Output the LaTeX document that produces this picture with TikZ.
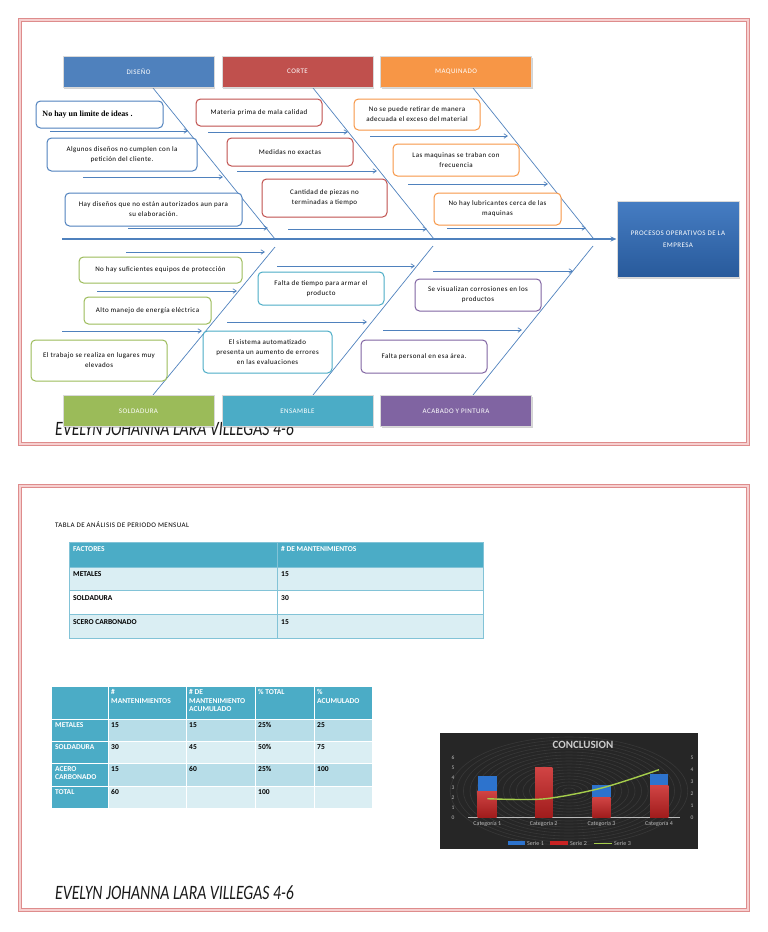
\documentclass[tikz,border=0pt]{standalone}
\usepackage{fontspec}
\setmainfont{Carlito}
\newfontfamily\cf[LetterSpace=6]{Carlito}
\newfontfamily\serifb{Liberation Serif}
\usetikzlibrary{arrows.meta,shadows,calc}
\definecolor{cblue}{RGB}{79,129,189}
\definecolor{cred}{RGB}{192,80,77}
\definecolor{corange}{RGB}{247,150,70}
\definecolor{cgreen}{RGB}{155,187,89}
\definecolor{cteal}{RGB}{75,172,198}
\definecolor{cpurple}{RGB}{128,100,162}
\definecolor{pinkband}{RGB}{246,208,208}
\definecolor{pinkline}{RGB}{222,140,140}
\definecolor{effTop}{RGB}{70,125,195}
\definecolor{effBot}{RGB}{40,90,155}
\definecolor{tlight}{RGB}{218,238,243}
\definecolor{tmid}{RGB}{183,221,232}
\definecolor{tline}{RGB}{130,195,215}
\definecolor{chartbg}{RGB}{38,38,38}
\definecolor{chartring}{RGB}{56,56,56}
\definecolor{barred}{RGB}{200,35,35}
\definecolor{barblue}{RGB}{45,115,205}
\definecolor{linegreen}{RGB}{165,205,75}
\definecolor{axisgray}{RGB}{185,185,185}
\begin{document}
\begin{tikzpicture}[x=1pt,y=-1pt,
  catbox/.style={fill=#1, draw=white!85!black, line width=1pt, minimum width=151pt, minimum height=31pt, inner sep=0pt, text=white, font=\cf\fontsize{7}{8}\selectfont, drop shadow={shadow xshift=1.2pt, shadow yshift=-1.6pt, opacity=0.35}},
  cause/.style={draw=#1, fill=white, line width=1pt, rounded corners=4.5pt, align=center, inner sep=0pt, font=\cf\fontsize{7}{10}\selectfont},
  bone/.style={draw=cblue, line width=0.7pt},
  feed/.style={draw=cblue, line width=0.7pt, -{Straight Barb[length=3.5pt,width=4.5pt]}},
  frame/.style={draw=pinkband, line width=3.6pt},
  frameline/.style={draw=pinkline, line width=0.7pt},
  footer/.style={anchor=base west, inner sep=0pt, font=\itshape\fontsize{15.7}{18}\selectfont, text=black!90},
  tcell/.style={anchor=north west, inner sep=0pt, align=left, font=\bfseries\fontsize{7.5}{8.5}\selectfont},
  axl/.style={inner sep=0pt, text=axisgray, font=\fontsize{5.5}{6}\selectfont},
  catl/.style={inner sep=0pt, text=axisgray, font=\fontsize{6}{7}\selectfont}
]
\useasboundingbox (0,0) rectangle (768,932);
% ---------------- page 1 frame
\draw[frame] (20,20) rectangle (748,444);
\draw[frameline] (18.3,18.3) rectangle (749.7,445.7);
\draw[frameline] (21.7,21.7) rectangle (746.3,442.3);
% footer page 1 (behind the lower boxes)
\begin{scope}[shift={(55,435)}, yscale=1.3, transform shape]
  \node[footer] (foot1) at (0,0) {EVELYN JOHANNA LARA VILLEGAS 4-6};
\end{scope}
% ---------------- bones
\foreach \n/\xa/\ya/\xb/\yb in {bd/153/88/275/239, bc/313/88/434/239, bm/473/88/593/238,
                                bs/153/395/275/247, be/313/395/433/246, ba/473/395/593/246}{
  \coordinate (\n s) at (\xa,\ya);
  \coordinate (\n e) at (\xb,\yb);
  \draw[bone] (\n s) -- (\n e);
}
% ---------------- feeder arrows
\foreach \n/\xa/\xb/\yy in {fd1/50/188/131, fd2/83/223/177, fd3/128/268/228,
                            fc1/208/348/132, fc2/237/377/171, fc3/288/427/229,
                            fm1/370/508/136, fm2/408/548/184, fm3/447/586/228,
                            fs1/126/265/252, fs2/97/237/291, fs3/62/202/331,
                            fe1/277/415/266, fe2/227/367/322,
                            fa1/433/573/271, fa2/383/522/330}{
  \coordinate (\n s) at (\xa,\yy);
  \coordinate (\n e) at (\xb,\yy);
  \draw[feed] (\n s) -- (\n e);
}
% ---------------- category boxes
\node[catbox=cblue] (dis) at (138.5,71.5) {DISEÑO};
\node[catbox=cred] (cor) at (297.5,71.5) {CORTE};
\node[catbox=corange] (maq) at (456,71.5) {MAQUINADO};
\node[catbox=cgreen] (sol) at (138.5,411) {SOLDADURA};
\node[catbox=cteal] (ens) at (297.5,411) {ENSAMBLE};
\node[catbox=cpurple] (aca) at (456,411) {ACABADO Y PINTURA};
% effect
\node[draw=white!85!black, line width=1pt, top color=effTop, bottom color=effBot, minimum width=122pt, minimum height=76pt, inner sep=0pt, text=white, align=center, font=\cf\fontsize{7}{12.5}\selectfont, drop shadow={shadow xshift=1.2pt, shadow yshift=-1.6pt, opacity=0.35}] (eff) at (678,239) {PROCESOS OPERATIVOS DE LA\\EMPRESA};
% spine
\coordinate (spst) at (62,239);
\draw[draw=cblue, line width=1.5pt, -{Stealth[length=6pt,width=5pt]}] (spst) -- (eff.west);
% ---------------- cause boxes
\node[cause=cblue, minimum width=127pt, minimum height=27pt, font=\serifb\bfseries\fontsize{8}{9}\selectfont] (d1) at (99.5,114.5) {No hay un limite de ideas .\hspace{24pt}};
\node[cause=cblue, minimum width=150pt, minimum height=33pt] (d2) at (122,154.5) {Algunos diseños no cumplen con la\\petición del cliente.};
\node[cause=cblue, minimum width=177pt, minimum height=33pt] (d3) at (153.5,209.5) {Hay diseños que no están autorizados aun para\\su elaboración.};
\node[cause=cred, minimum width=126pt, minimum height=27pt] (c1) at (259,112.5) {Materia prima de mala calidad};
\node[cause=cred, minimum width=126pt, minimum height=28pt] (c2) at (290,152) {Medidas no exactas};
\node[cause=cred, minimum width=125pt, minimum height=38pt] (c3) at (324.5,198) {Cantidad de piezas no\\terminadas a tiempo};
\node[cause=corange, minimum width=126pt, minimum height=31pt] (m1) at (417,114.5) {No se puede retirar de manera\\adecuada el exceso del material};
\node[cause=corange, minimum width=126pt, minimum height=32pt] (m2) at (456,160) {Las maquinas se traban con\\frecuencia};
\node[cause=corange, minimum width=127pt, minimum height=32pt] (m3) at (497.5,209) {No hay lubricantes cerca de las\\maquinas};
\node[cause=cgreen, minimum width=163pt, minimum height=26pt] (s1) at (160.5,270) {No hay suficientes equipos de protección};
\node[cause=cgreen, minimum width=127pt, minimum height=27pt] (s2) at (147.5,310.5) {Alto manejo de energía eléctrica};
\node[cause=cgreen, minimum width=136pt, minimum height=41pt] (s3) at (99,360.5) {El trabajo se realiza en lugares muy\\elevados};
\node[cause=cteal, minimum width=126pt, minimum height=33pt] (e1) at (321,288.5) {Falta de tiempo para armar el\\producto};
\node[cause=cteal, minimum width=129pt, minimum height=42pt] (e2) at (267.5,352) {El sistema automatizado\\presenta un aumento de errores\\en las evaluaciones};
\node[cause=cpurple, minimum width=126pt, minimum height=32pt] (a1) at (478,295) {Se visualizan corrosiones en los\\productos};
\node[cause=cpurple, minimum width=126pt, minimum height=33pt] (a2) at (424,356.5) {Falta personal en esa área.};

% ================= page 2
\draw[frame] (20,486) rectangle (748,910);
\draw[frameline] (18.3,484.3) rectangle (749.7,911.7);
\draw[frameline] (21.7,487.7) rectangle (746.3,908.3);
\node[anchor=base west, inner sep=0pt, font=\cf\fontsize{7}{8}\selectfont] (ttl) at (55,527.5) {TABLA DE ANÁLISIS DE PERIODO MENSUAL};
% table 1
\fill[cteal] (69,542) rectangle (483,567);
\fill[tlight] (69,567) rectangle (483,590);
\fill[white] (69,590) rectangle (483,614);
\fill[tlight] (69,614) rectangle (483,638);
\draw[tline, line width=0.6pt] (69,542) rectangle (483,638);
\draw[tline, line width=0.6pt] (69,567) -- (483,567) (69,590) -- (483,590) (69,614) -- (483,614) (277,542) -- (277,638);
\node[tcell, text=white] (t1a) at (73,546) {FACTORES};
\node[tcell, text=white] (t1b) at (281,546) {\# DE MANTENIMIENTOS};
\node[tcell] (t1c) at (73,571) {METALES};
\node[tcell] (t1d) at (281,571) {15};
\node[tcell] (t1e) at (73,595) {SOLDADURA};
\node[tcell] (t1f) at (281,595) {30};
\node[tcell] (t1g) at (73,619) {SCERO CARBONADO};
\node[tcell] (t1h) at (281,619) {15};
% table 2
\fill[cteal] (52,687) rectangle (372,719);
\fill[cteal] (52,719) rectangle (108,808);
\fill[tmid] (108,719) rectangle (372,741);
\fill[tlight] (108,741) rectangle (372,763);
\fill[tmid] (108,763) rectangle (372,786);
\fill[tlight] (108,786) rectangle (372,808);
\draw[white, line width=1pt] (108,687) -- (108,808) (186,687) -- (186,808) (255,687) -- (255,808) (314,687) -- (314,808)
  (52,719) -- (372,719) (52,741) -- (372,741) (52,763) -- (372,763) (52,786) -- (372,786);
\node[tcell, text=white] (h2) at (111,689.5) {\#\\MANTENIMIENTOS};
\node[tcell, text=white] (h3) at (189,689.5) {\# DE\\MANTENIMIENTO\\ACUMULADO};
\node[tcell, text=white] (h4) at (258,689.5) {\% TOTAL};
\node[tcell, text=white] (h5) at (317,689.5) {\%\\ACUMULADO};
\node[tcell, text=white] (r1) at (55,722) {METALES};
\node[tcell, text=white] (r2) at (55,744) {SOLDADURA};
\node[tcell, text=white] (r3) at (55,766) {ACERO\\CARBONADO};
\node[tcell, text=white] (r4) at (55,789) {TOTAL};
\node[tcell] (v11) at (111,722) {15};
\node[tcell] (v12) at (189,722) {15};
\node[tcell] (v13) at (258,722) {25\%};
\node[tcell] (v14) at (317,722) {25};
\node[tcell] (v21) at (111,744) {30};
\node[tcell] (v22) at (189,744) {45};
\node[tcell] (v23) at (258,744) {50\%};
\node[tcell] (v24) at (317,744) {75};
\node[tcell] (v31) at (111,766) {15};
\node[tcell] (v32) at (189,766) {60};
\node[tcell] (v33) at (258,766) {25\%};
\node[tcell] (v34) at (317,766) {100};
\node[tcell] (v41) at (111,789) {60};
\node[tcell] (v43) at (258,789) {100};
% ---------------- chart
\fill[chartbg] (440,733) rectangle (698,849);
\begin{scope}
  \clip (440,733) rectangle (698,849);
  \foreach \r in {3,6,...,54}{
    \draw[chartring, line width=0.6pt] (569,791) ellipse [x radius={2.2*\r}, y radius=\r];
  }
\end{scope}
\node[font=\bfseries\fontsize{11}{12}\selectfont, text=white!80!black, inner sep=0pt] (ctitle) at (583,745) {CONCLUSION};
\draw[axisgray, line width=0.5pt] (468,817.3) -- (680,817.3);
% bars
\shade[top color=barred!85!white, bottom color=barred!80!black] (477.7,817.3) rectangle (496.7,790.7);
\fill[barblue] (477.7,790.7) rectangle (496.7,776.3);
\shade[top color=barred!85!white, bottom color=barred!80!black] (535,817.3) rectangle (552.3,767.3);
\shade[top color=barred!85!white, bottom color=barred!80!black] (592.3,817.3) rectangle (610.7,797.3);
\fill[barblue] (592.3,797.3) rectangle (610.7,784.7);
\shade[top color=barred!85!white, bottom color=barred!80!black] (650,817.3) rectangle (668.3,785.3);
\fill[barblue] (650,785.3) rectangle (668.3,774);
\draw[linegreen, line width=1.4pt] plot[smooth, tension=0.5] coordinates {(487.3,798.7) (543.7,798.9) (601.7,788) (659,769.7)};
\foreach \k in {0,...,6}{ \node[axl] (yl\k) at (453,{817.3-\k*9.9}) {\k}; }
\foreach \k in {0,...,5}{ \node[axl] (yr\k) at (692,{817.3-\k*11.87}) {\k}; }
\node[catl] (cat1) at (487.3,823.7) {Categoría 1};
\node[catl] (cat2) at (543.7,823.7) {Categoría 2};
\node[catl] (cat3) at (601.5,823.7) {Categoría 3};
\node[catl] (cat4) at (659,823.7) {Categoría 4};
\fill[barblue] (507.7,841.3) rectangle (525,845);
\node[catl, anchor=west] (lg1) at (527,843.2) {Serie 1};
\fill[barred] (550,841.3) rectangle (568,845);
\node[catl, anchor=west] (lg2) at (570,843.2) {Serie 2};
\draw[linegreen, line width=1.3pt] (594,843.2) -- (612,843.2);
\node[catl, anchor=west] (lg3) at (614,843.2) {Serie 3};
% footer page 2
\begin{scope}[shift={(55,899)}, yscale=1.3, transform shape]
  \node[footer] (foot2) at (0,0) {EVELYN JOHANNA LARA VILLEGAS 4-6};
\end{scope}
\end{tikzpicture}
\end{document}
